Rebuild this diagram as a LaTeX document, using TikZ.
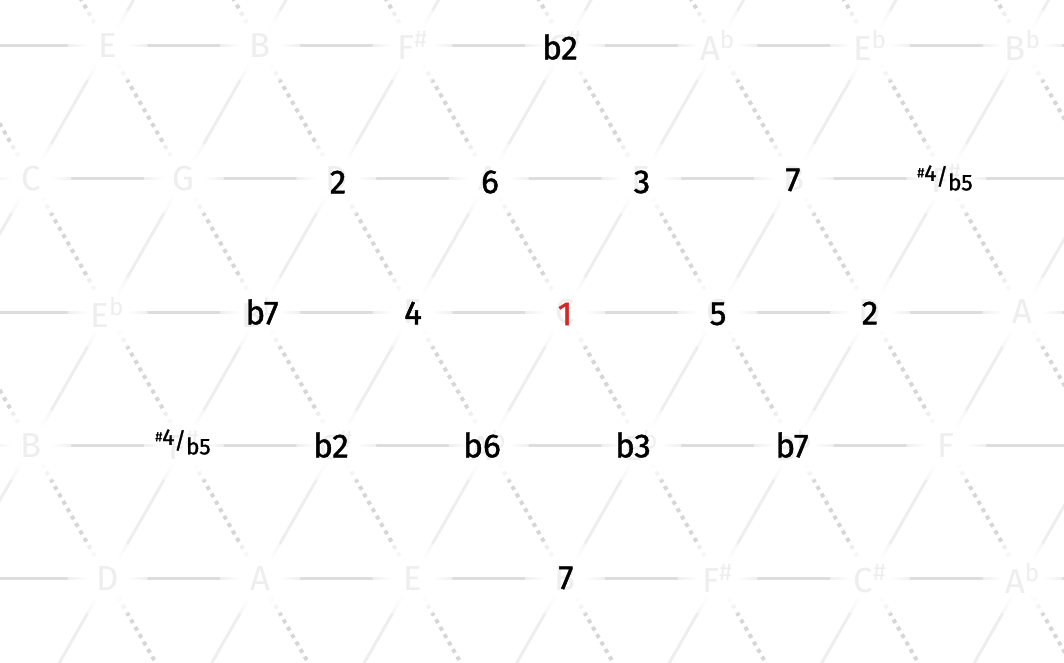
\documentclass[tikz,border=0pt]{standalone}
\usepackage{fontspec}
\setmainfont{Fira Sans}
\newfontfamily\degreefont{Fira Sans}[FakeBold=1.2]
\usetikzlibrary{fadings}

\definecolor{rowgray}{RGB}{221,221,221}
\definecolor{thirdgray}{RGB}{238,238,238}
\definecolor{dotgray}{RGB}{214,214,214}
\definecolor{notegray}{RGB}{238,238,238}
\definecolor{rootred}{RGB}{214,38,38}

\pgfdeclareradialshading{haloshade}{\pgfpointorigin}{color(0bp)=(pgftransparent!0); color(12.5bp)=(pgftransparent!0); color(37.5bp)=(pgftransparent!100); color(50bp)=(pgftransparent!100)}
\pgfdeclarefading{halo fade}{\pgfuseshading{haloshade}}

\newcommand{\notesharp}{\textsuperscript{\#}}
\newcommand{\noteflat}{\textsuperscript{b}}
\newcommand{\tritonetext}{\raisebox{0.6ex}{\fontsize{10}{10}\selectfont\#}\raisebox{0.3ex}{4}/\raisebox{-0.5ex}{b5}}

\tikzset{every picture/.style={line width=0.75pt}}
\tikzset{
  fifths/.style={draw=rowgray, line width=2.25pt},
  majthird/.style={draw=thirdgray, line width=2.25pt},
  minthird/.style={draw=dotgray, line width=3pt, dash pattern=on 3pt off 3.4pt},
  note/.style={circle, minimum size=62pt, inner sep=0pt, text=notegray, font=\fontsize{26}{26}\selectfont,
    path picture={\fill[white, path fading=halo fade] (path picture bounding box.center) circle [radius=30pt];}},
  degree/.style={inner sep=0pt, font=\degreefont\fontsize{25}{25}\selectfont},
  tritone/.style={inner sep=0pt, font=\degreefont\fontsize{17}{17}\selectfont},
}

\begin{document}
\begin{tikzpicture}[x=0.75pt,y=0.75pt,yscale=-1,xscale=1]
\useasboundingbox (0,0) rectangle (1064,662);
\clip (0,0) rectangle (1064,662);

%Straight Lines: rows of fifths
\draw [fifths] (-5,45.5) -- (1069,45.5) ;
\draw [fifths] (-5,178.75) -- (1069,178.75) ;
\draw [fifths] (-5,312) -- (1069,312) ;
\draw [fifths] (-5,445.25) -- (1069,445.25) ;
\draw [fifths] (-5,578.5) -- (1069,578.5) ;

%Straight Lines: major thirds
\draw [majthird] (139.26,-10) -- (-251,672) ;
\draw [majthird] (291.76,-10) -- (-98.5,672) ;
\draw [majthird] (444.26,-10) -- (54,672) ;
\draw [majthird] (596.76,-10) -- (206.5,672) ;
\draw [majthird] (749.26,-10) -- (359,672) ;
\draw [majthird] (901.76,-10) -- (511.5,672) ;
\draw [majthird] (1054.26,-10) -- (664,672) ;
\draw [majthird] (1206.76,-10) -- (816.5,672) ;
\draw [majthird] (1359.26,-10) -- (969,672) ;

%Dotted Lines: minor thirds
\draw [minthird] (-229.26,-10) -- (161,672) ;
\draw [minthird] (-76.76,-10) -- (313.5,672) ;
\draw [minthird] (75.74,-10) -- (466,672) ;
\draw [minthird] (228.24,-10) -- (618.5,672) ;
\draw [minthird] (380.74,-10) -- (771,672) ;
\draw [minthird] (533.24,-10) -- (923.5,672) ;
\draw [minthird] (685.74,-10) -- (1076,672) ;
\draw [minthird] (838.24,-10) -- (1228.5,672) ;
\draw [minthird] (990.74,-10) -- (1381,672) ;

% Note Nodes
\node [note] (E1) at (107.5,45.5) {E};
\node [note] (B1) at (260,45.5) {B};
\node [note] (Fs1) at (412.5,45.5) {F\notesharp};
\node [note] (Cs1) at (565,45.5) {C\notesharp};
\node [note] (Ab1) at (717.5,45.5) {A\noteflat};
\node [note] (Eb1) at (870,45.5) {E\noteflat};
\node [note] (Bb1) at (1022.5,45.5) {B\noteflat};

\node [note] (C2) at (31.25,178.75) {C};
\node [note] (G2) at (183.75,178.75) {G};
\node [note] (D2) at (336.25,178.75) {D};
\node [note] (A2) at (488.75,178.75) {A};
\node [note] (E2) at (641.25,178.75) {E};
\node [note] (B2) at (793.75,178.75) {B};
\node [note] (Fs2) at (946.25,178.75) {F\notesharp};

\node [note] (Eb3) at (107.5,312) {E\noteflat};
\node [note] (Bb3) at (260,312) {B\noteflat};
\node [note] (F3) at (412.5,312) {F};
\node [note] (C3) at (565,312) {C};
\node [note] (G3) at (717.5,312) {G};
\node [note] (D3) at (870,312) {D};
\node [note] (A3) at (1022.5,312) {A};

\node [note] (B4) at (31.25,445.25) {B};
\node [note] (Fs4) at (183.75,445.25) {F\notesharp};
\node [note] (Cs4) at (336.25,445.25) {C\notesharp};
\node [note] (Ab4) at (488.75,445.25) {A\noteflat};
\node [note] (Eb4) at (641.25,445.25) {E\noteflat};
\node [note] (Bb4) at (793.75,445.25) {B\noteflat};
\node [note] (F4) at (946.25,445.25) {F};

\node [note] (D5) at (107.5,578.5) {D};
\node [note] (A5) at (260,578.5) {A};
\node [note] (E5) at (412.5,578.5) {E};
\node [note] (B5) at (565,578.5) {B};
\node [note] (Fs5) at (717.5,578.5) {F\notesharp};
\node [note] (Cs5) at (870,578.5) {C\notesharp};
\node [note] (Ab5) at (1022.5,578.5) {A\noteflat};

% Scale Degrees
\node [degree] (dgb2top) at (560,47) {b2};

\node [degree] (dg2up) at (338,182) {2};
\node [degree] (dg6) at (490,182) {6};
\node [degree] (dg3) at (642,182) {3};
\node [degree] (dg7up) at (793,180) {7};
\node [tritone] (dgtriup) at (945,178) {\tritonetext};

\node [degree] (dgb7mid) at (262,312) {b7};
\node [degree] (dg4) at (413,313) {4};
\node [degree, text=rootred] (dg1) at (565,314) {1};
\node [degree] (dg5) at (718,314) {5};
\node [degree] (dg2mid) at (870,313) {2};

\node [tritone] (dgtrilow) at (183,442) {\tritonetext};
\node [degree] (dgb2low) at (331,445) {b2};
\node [degree] (dgb6) at (482,445) {b6};
\node [degree] (dgb3) at (633,445) {b3};
\node [degree] (dgb7low) at (792,445) {b7};

\node [degree] (dg7low) at (566,578) {7};

\end{tikzpicture}
\end{document}
